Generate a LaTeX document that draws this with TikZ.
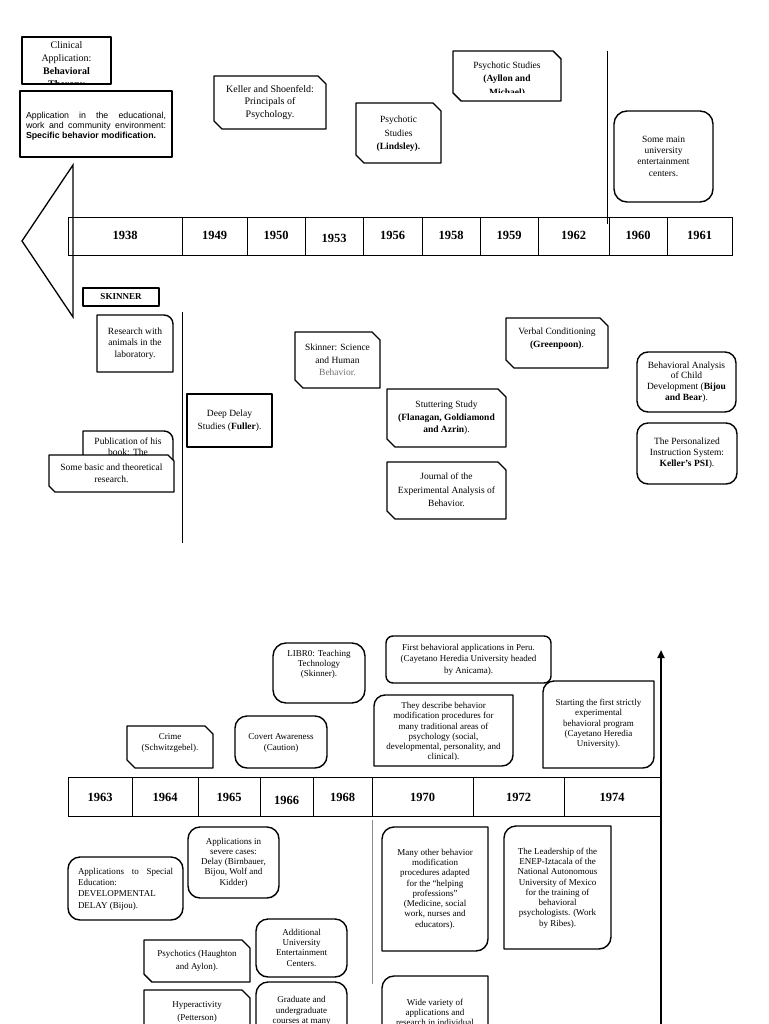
\documentclass[tikz,border=0pt]{standalone}
\usepackage{fontspec}
\setmainfont{Liberation Serif}
\newfontfamily\arialf{Liberation Sans}
\usetikzlibrary{arrows.meta}
\tikzset{
 bx/.style={draw=black, line width=1.4pt, fill=white, line join=round},
 tt/.style={inner sep=0pt, align=center, font=\fontsize{9.5}{11.5}\selectfont},
 tb/.style={inner sep=0pt, align=center, font=\fontsize{9}{10.3}\selectfont},
 yr/.style={inner sep=0pt, font=\fontsize{12.5}{14}\selectfont\bfseries},
 cell/.style={draw=black, line width=0.9pt},
 sep/.style={draw=black, line width=0.9pt},
}
\newcommand\shS[4]{\draw[bx] (#1,#2) rectangle (#3,#4);}
\newcommand\shR[5]{\draw[bx, rounded corners=#5pt] (#1,#2) rectangle (#3,#4);}
\newcommand\shC[5]{\draw[bx] (#1,#2) -- ({#3-#5},#2) -- (#3,{#2+#5}) -- (#3,#4) -- ({#1+#5},#4) -- (#1,{#4-#5}) -- cycle;}
\newcommand\shCNE[5]{\draw[bx] (#1,#2) -- ({#3-#5},#2) -- (#3,{#2+#5}) -- (#3,#4) -- (#1,#4) -- cycle;}
\newcommand\shTNE[5]{\draw[bx] (#1,#2) -- ({#3-#5},#2) .. controls ({#3-0.448*#5},#2) and (#3,{#2+0.448*#5}) .. (#3,{#2+#5}) -- (#3,#4) -- (#1,#4) -- cycle;}
\newcommand\shTNW[5]{\draw[bx] (#1,{#2+#5}) .. controls (#1,{#2+0.448*#5}) and ({#1+0.448*#5},#2) .. ({#1+#5},#2) -- (#3,#2) -- (#3,#4) -- (#1,#4) -- cycle;}
\newcommand\shD[5]{\draw[bx] (#1,{#2+#5}) .. controls (#1,{#2+0.448*#5}) and ({#1+0.448*#5},#2) .. ({#1+#5},#2) -- (#3,#2) -- (#3,{#4-#5}) .. controls (#3,{#4-0.448*#5}) and ({#3-0.448*#5},#4) .. ({#3-#5},#4) -- (#1,#4) -- cycle;}
\begin{document}
\begin{tikzpicture}[x=1pt,y=-1pt]
\useasboundingbox[fill=white] (0,0) rectangle (768,1024);

% ---------------- upper half ----------------
\shS{22}{37}{111}{84}
\begin{scope}
\clip (22,37) rectangle (111,82.5);
\node[tt, font=\fontsize{10}{13}\selectfont, anchor=north] (clin) at (66.5,41) {Clinical\\Application:\\\textbf{Behavioral}\\\textbf{Therapy}};
\end{scope}

\draw[bx, line width=1.6pt] (20,91) rectangle (172,157);
\node[inner sep=0pt, align=left, font=\arialf\fontsize{8.8}{10}\selectfont] (appl) at (96,126) {\makebox[140pt][s]{Application in the educational,}\\\makebox[140pt][s]{work and community environment:}\\\textbf{Specific behavior modification.}};

\shC{214}{76}{326}{129}{8}
\node[tt, font=\fontsize{10}{12.5}\selectfont] (keller) at (270,102.5) {Keller and Shoenfeld:\\Principals of\\Psychology.};

\shC{356}{103}{441}{163}{8}
\node[tt, font=\fontsize{9.5}{13.5}\selectfont] (lind) at (398.5,134) {Psychotic\\Studies\\\textbf{(Lindsley).}};

\shC{453}{51}{561}{101}{8}
\begin{scope}
\clip (453,51) rectangle (561,93);
\node[tt, font=\fontsize{9.5}{13.5}\selectfont, anchor=north] (ayllon) at (507,61.5) {Psychotic Studies\\\textbf{(Ayllon and}\\\textbf{Michael)}};
\end{scope}

\draw[sep, line width=1pt] (607,51) -- (607,224);

\shR{614}{111}{713}{202}{13}
\node[tt, font=\fontsize{9.5}{11.3}\selectfont] (univ) at (663.5,156) {Some main\\university\\entertainment\\centers.};

% timeline 1
\draw[line width=1.3pt, line join=miter] (73,165) -- (22,241) -- (73,317) -- cycle;
\draw[cell] (68,217) rectangle (732,255);
\foreach \xx in {182,247,305,363,422,480,538,609,667} \draw[cell] (\xx,217) -- (\xx,255);
\foreach \xa/\xb/\yy/\tx in {68/182/235.5/1938, 182/247/235.5/1949, 247/305/235.5/1950, 305/363/238.5/1953, 363/422/235.5/1956, 422/480/235.5/1958, 480/538/235.5/1959, 538/609/235.5/1962, 609/667/235.5/1960, 667/732/235.5/1961}
  \node[yr] (y\tx) at ({(\xa+\xb)/2},\yy) {\tx};

\draw[bx] (83,288) rectangle (159,306);
\node[inner sep=0pt, font=\fontsize{9}{10}\selectfont\bfseries] (skinner) at (121,297) {SKINNER};

\shTNE{97}{315}{173}{372}{9}
\node[tt] (research) at (135,343.5) {Research with\\animals in the\\laboratory.};

\draw[sep] (182,312) -- (182,543);

\shS{187}{394}{272}{447}
\node[tt, font=\fontsize{9.5}{13.5}\selectfont] (fuller) at (229.5,420.5) {Deep Delay\\Studies (\textbf{Fuller}).};

\shTNE{83}{431}{173}{490}{9}
\begin{scope}
\clip (83,431) rectangle (173,490);
\node[tt, anchor=north] (pub) at (128,437.5) {Publication of his\\book: The\\Behavior of\\Organisms.};
\end{scope}
\shC{49}{455}{174}{492}{6}
\node[tt, font=\fontsize{9.5}{12}\selectfont] (basic) at (111.5,473) {Some basic and theoretical\\research.};

\shC{295}{332}{380}{388}{8}
\node[tt, font=\fontsize{9.5}{12.5}\selectfont] (skhb) at (337.5,360) {Skinner: Science\\and Human\\\textcolor{black!55}{Behavior.}};

\shC{387}{389}{506}{447}{8}
\node[tt, font=\fontsize{9.5}{12.5}\selectfont] (stutter) at (446.5,418) {Stuttering Study\\\textbf{(Flanagan, Goldiamond}\\\textbf{and Azrin}).};

\shC{387}{462}{506}{519}{8}
\node[tt, font=\fontsize{9.5}{13.5}\selectfont] (journal) at (446.5,490) {Journal of the\\Experimental Analysis of\\Behavior.};

\shC{506}{318}{608}{368}{8}
\node[tt, font=\fontsize{9.5}{13}\selectfont] (verbal) at (557,338.5) {Verbal Conditioning\\\textbf{(Greenpoon)}.};

\shR{637}{352}{736}{412}{11}
\node[tt, font=\fontsize{9.5}{10.8}\selectfont] (child) at (686.5,382) {Behavioral Analysis\\of Child\\Development (\textbf{Bijou}\\\textbf{and Bear}).};

\shR{637}{423}{737}{484}{11}
\node[tt, font=\fontsize{9.5}{10.8}\selectfont] (psi) at (687,453.5) {The Personalized\\Instruction System:\\\textbf{Keller's PSI}).};

% ---------------- lower half ----------------
\shR{273}{643}{365}{703}{13}
\node[tb] (libro) at (319,664.5) {LIBR0: Teaching\\Technology\\(Skinner).};

\shR{386}{636}{551}{683}{7}
\node[tb, font=\fontsize{9}{11.5}\selectfont] (peru) at (468.5,659.5) {First behavioral applications in Peru.\\(Cayetano Heredia University headed\\by Anicama).};

\shC{127}{726}{213}{768}{8}
\node[tb] (crime) at (170,743) {Crime\\(Schwitzgebel).};

\shR{235}{716}{327}{768}{12}
\node[tb] (covert) at (281,743) {Covert Awareness\\(Caution)};

\shD{374}{695}{513}{766}{11}
\begin{scope}
\clip (374,695) rectangle (513,759);
\node[tb, anchor=north] (describe) at (443.5,702) {They describe behavior\\modification procedures for\\many traditional areas of\\psychology (social,\\developmental, personality, and\\clinical).};
\end{scope}

\shD{543}{681}{654}{768}{11}
\node[tb] (start) at (598.5,724) {Starting the first strictly\\experimental\\behavioral program\\(Cayetano Heredia\\University).};

% timeline 2
\draw[cell] (68,777) rectangle (660,816);
\foreach \xx in {132,198,260,313,372,473,564} \draw[cell] (\xx,777) -- (\xx,816);
\foreach \xa/\xb/\yy/\tx in {68/132/797/1963, 132/198/797/1964, 198/260/797/1965, 260/313/800.5/1966, 313/372/797/1968, 372/473/797/1970, 473/564/797/1972, 564/660/797/1974}
  \node[yr] (y\tx) at ({(\xa+\xb)/2},\yy) {\tx};

\coordinate (arrbot) at (661,1030);
\coordinate (arrtop) at (661,650);
\draw[line width=2.2pt, -{Triangle[length=8pt,width=7pt]}] (arrbot) -- (arrtop);

\shR{188}{827}{279}{898}{12}
\node[tb] (severe) at (233.5,862.5) {Applications in\\severe cases:\\Delay (Birnbauer,\\Bijou, Wolf and\\Kidder)};

\shR{68}{857}{183}{920}{12}
\node[tb, align=left, font=\fontsize{9}{11.3}\selectfont] (special) at (125.5,889) {\makebox[95pt][s]{Applications to Special}\\Education:\\DEVELOPMENTAL\\DELAY (Bijou).};

\shC{144}{940}{250}{982}{8}
\node[tb, font=\fontsize{9}{13}\selectfont] (psychot) at (197,961) {Psychotics (Haughton\\and Aylon).};

\shR{256}{919}{347}{977}{12}
\node[tb] (addl) at (301.5,947.5) {Additional\\University\\Entertainment\\Centers.};

\shCNE{144}{990}{250}{1045}{8}
\node[tb, font=\fontsize{9}{13}\selectfont] (hyper) at (197,1011.5) {Hyperactivity\\(Petterson)};

\shR{256}{982}{347}{1050}{12}
\node[tb, anchor=north] (grad) at (301.5,996.5) {Graduate and\\undergraduate\\courses at many\\universities.};

\draw[draw=black!45, line width=0.8pt] (372,820) -- (372,984);

\shD{382}{827}{488}{951}{12}
\node[tb] (many) at (435,889) {Many other behavior\\modification\\procedures adapted\\for the ``helping\\professions''\\(Medicine, social\\work, nurses and\\educators).};

\shD{504}{826}{611}{949}{12}
\node[tb] (enep) at (557.5,888) {The Leadership of the\\ENEP-Iztacala of the\\National Autonomous\\University of Mexico\\for the training of\\behavioral\\psychologists. (Work\\by Ribes).};

\shTNW{382}{976}{488}{1050}{12}
\node[tb, anchor=north] (wide) at (435,998.5) {Wide variety of\\applications and\\research in individual\\cases.};

\end{tikzpicture}
\end{document}
